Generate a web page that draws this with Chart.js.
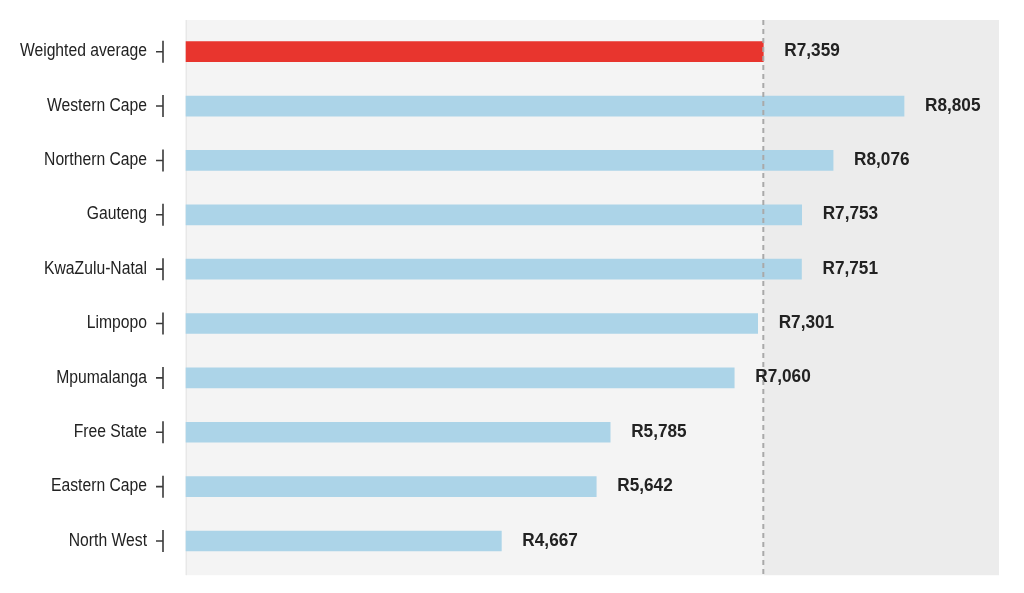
<!DOCTYPE html>
<html>
<head>
<meta charset="utf-8">
<script src="https://cdn.jsdelivr.net/npm/chart.js@4/dist/chart.umd.min.js"></script>
<style>
  html, body { margin: 0; padding: 0; background: #fff; }
  #wrap { width: 1024px; height: 593px; }
</style>
</head>
<body>
<div id="wrap"><canvas id="chart" width="1024" height="593"></canvas></div>
<script>
// Provinces and monthly values (Rand)
const categories = ['Weighted average', 'Western Cape', 'Northern Cape', 'Gauteng', 'KwaZulu-Natal',
    'Limpopo', 'Mpumalanga', 'Free State', 'Eastern Cape', 'North West'];
const values = [7359, 8805, 8076, 7753, 7751, 7301, 7060, 5785, 5642, 4667];
const averageValue = 7359;
const axisMin = 1423;
const axisMax = 9781;

const FONT = '"Liberation Sans", Arial, sans-serif';

// Draw condensed text by squeezing horizontally
function drawCondensed(ctx, text, x, y, squeeze, align) {
    ctx.save();
    ctx.translate(x, y);
    ctx.scale(squeeze, 1);
    ctx.textAlign = align;
    ctx.textBaseline = 'middle';
    ctx.fillText(text, 0, 0);
    ctx.restore();
}

// Background panels, dashed average line, labels
const backgroundPlugin = {
    id: 'panels',
    beforeDraw(chart) {
        const { ctx, chartArea, scales } = chart;
        const top = chartArea.top - 4.5;
        const bottom = chartArea.bottom + 7;
        const avgX = scales.x.getPixelForValue(averageValue);
        ctx.save();
        ctx.fillStyle = '#f4f4f4';
        ctx.fillRect(chartArea.left, top, avgX - chartArea.left, bottom - top);
        ctx.fillStyle = '#ececec';
        ctx.fillRect(avgX, top, chartArea.right - avgX, bottom - top);
        ctx.strokeStyle = '#e2e2e2';
        ctx.lineWidth = 1;
        ctx.beginPath();
        ctx.moveTo(chartArea.left + 0.5, top);
        ctx.lineTo(chartArea.left + 0.5, bottom);
        ctx.stroke();
        ctx.restore();
    },
    afterDatasetsDraw(chart) {
        const { ctx, chartArea, scales } = chart;
        const top = chartArea.top - 4.5;
        const bottom = chartArea.bottom + 7;
        const avgX = scales.x.getPixelForValue(averageValue);
        ctx.save();
        ctx.strokeStyle = '#a9a9a9';
        ctx.lineWidth = 2;
        ctx.setLineDash([5, 4]);
        ctx.beginPath();
        ctx.moveTo(avgX, top);
        ctx.lineTo(avgX, bottom);
        ctx.stroke();
        ctx.restore();

        // category labels and tick glyphs
        ctx.save();
        ctx.strokeStyle = '#3a3a3a';
        ctx.lineWidth = 1.6;
        ctx.fillStyle = '#222';
        ctx.font = '18.7px ' + FONT;
        categories.forEach((c, i) => {
            const y = scales.y.getPixelForValue(i);
            drawCondensed(ctx, c, 147, y - 0.5, 0.84, 'right');
            ctx.beginPath();
            ctx.moveTo(156, y);
            ctx.lineTo(163, y);
            ctx.moveTo(163, y - 11);
            ctx.lineTo(163, y + 11);
            ctx.stroke();
        });
        ctx.restore();

        // value labels
        ctx.save();
        ctx.fillStyle = '#222';
        ctx.font = 'bold 18.5px ' + FONT;
        const meta = chart.getDatasetMeta(0);
        meta.data.forEach((bar, i) => {
            drawCondensed(ctx, 'R' + values[i].toLocaleString('en-US'), bar.x + 21, bar.y - 0.5, 0.93, 'left');
        });
        ctx.restore();
    }
};

new Chart(document.getElementById('chart'), {
    type: 'bar',
    data: {
        labels: categories,
        datasets: [{
            data: values,
            backgroundColor: values.map((v, i) => i === 0 ? '#e8352e' : '#acd4e8'),
            barThickness: 20,
            borderWidth: 0
        }]
    },
    options: {
        indexAxis: 'y',
        responsive: false,
        animation: false,
        layout: { padding: { top: 24.5, bottom: 24.8, right: 25, left: 0 } },
        plugins: {
            legend: { display: false },
            tooltip: { enabled: false }
        },
        scales: {
            x: {
                display: false,
                min: axisMin,
                max: axisMax
            },
            y: {
                grid: { display: false, drawTicks: false },
                border: { display: false },
                ticks: { display: false },
                afterFit(scale) { scale.width = 185.7; }
            }
        }
    },
    plugins: [backgroundPlugin]
});
</script>
</body>
</html>
